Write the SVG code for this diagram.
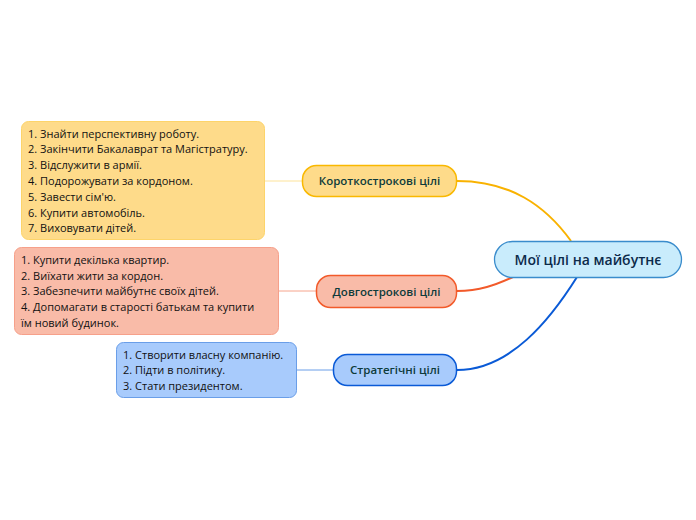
<svg xmlns="http://www.w3.org/2000/svg" width="696" height="520" viewBox="0 0 696 520">
<style>
text{font-family:"Open Sans","Noto Sans","DejaVu Sans",sans-serif}
.t{font-size:11px;fill:#111}
.b{font-size:11.5px;font-weight:600;fill:#0e3b3b;text-anchor:middle}
</style>
<rect width="696" height="520" fill="#fff"/>
<g id="connectors" fill="none" stroke-width="2">
<path d="M457,181 C510,181 545,205 571,241" stroke="#f9b200"/>
<path d="M457,291 C480,291 495,285 513,277" stroke="#f25a2a"/>
<path d="M457,370 C510,370 550,320 577,277" stroke="#0a5ad6"/>
<path d="M264,181 H302" stroke="#fde39a" stroke-width="1"/>
<path d="M278,291 H316" stroke="#f6a48c" stroke-width="1"/>
<path d="M296,370 H333" stroke="#6a9ee8" stroke-width="1"/>
</g>
<g id="root">
<rect x="494.5" y="241.5" width="187" height="36" rx="18" fill="#c9ecfc" stroke="#3a8ccc" stroke-width="1.3"/>
<text x="588" y="265" font-size="14" font-weight="600" fill="#0c2a4a" text-anchor="middle">Мої цілі на майбутнє</text>
</g>
<g id="short">
<rect x="302.5" y="165.5" width="154" height="31" rx="14" fill="#fedb8a" stroke="#f9b800" stroke-width="1.5"/>
<text class="b" x="379.5" y="185">Короткострокові цілі</text>
</g>
<g id="long">
<rect x="316.5" y="275.5" width="140" height="32" rx="14" fill="#f9bba8" stroke="#f25a2a" stroke-width="1.5"/>
<text class="b" x="386.5" y="296">Довгострокові цілі</text>
</g>
<g id="strategic">
<rect x="333.5" y="354.5" width="123" height="31" rx="14" fill="#a8cbfc" stroke="#0a5ad6" stroke-width="1.5"/>
<text class="b" x="395" y="374">Стратегічні цілі</text>
</g>
<g id="short-list">
<rect x="21.5" y="121.5" width="243" height="118" rx="7" fill="#fedb8a" stroke="#fdd46a"/>
<text class="t" x="28" y="138">1. Знайти перспективну роботу.</text>
<text class="t" x="28" y="153">2. Закінчити Бакалаврат та Магістратуру.</text>
<text class="t" x="28" y="169">3. Відслужити в армії.</text>
<text class="t" x="28" y="185">4. Подорожувати за кордоном.</text>
<text class="t" x="28" y="201">5. Завести сім'ю.</text>
<text class="t" x="28" y="217">6. Купити автомобіль.</text>
<text class="t" x="28" y="232">7. Виховувати дітей.</text>
</g>
<g id="long-list">
<rect x="14.5" y="247.5" width="264" height="87" rx="7" fill="#f9bba8" stroke="#f6a08a"/>
<text class="t" x="21" y="264">1. Купити декілька квартир.</text>
<text class="t" x="21" y="280">2. Виїхати жити за кордон.</text>
<text class="t" x="21" y="295">3. Забезпечити майбутнє своїх дітей.</text>
<text class="t" x="21" y="311">4. Допомагати в старості батькам та купити</text>
<text class="t" x="21" y="327">їм новий будинок.</text>
</g>
<g id="strategic-list">
<rect x="116.5" y="342.5" width="180" height="55" rx="7" fill="#a8cbfc" stroke="#6a9ee8"/>
<text class="t" x="123" y="359">1. Створити власну компанію.</text>
<text class="t" x="123" y="374">2. Підти в політику.</text>
<text class="t" x="123" y="390">3. Стати президентом.</text>
</g>
</svg>
